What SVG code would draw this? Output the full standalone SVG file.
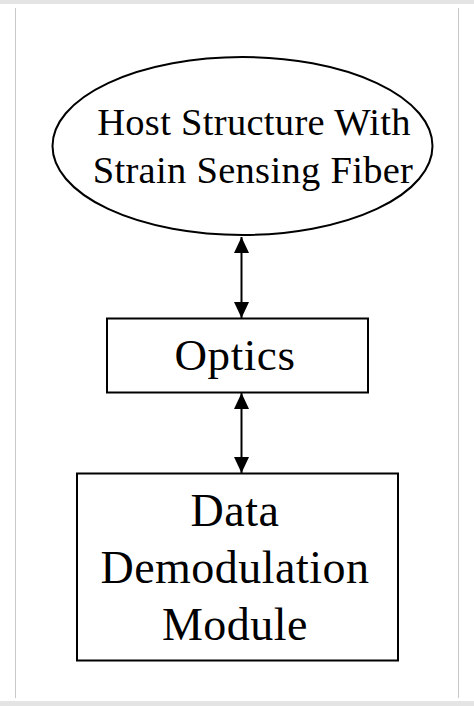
<svg xmlns="http://www.w3.org/2000/svg" width="474" height="706" viewBox="0 0 474 706">
<defs>
<style>
.shape{fill:#fff;stroke:#000;stroke-width:2}
.lbl{font-family:"Liberation Serif","Times New Roman",serif;fill:#000;text-anchor:middle}
.conn{stroke:#000;stroke-width:2;fill:none}
</style>
<marker id="ah2" viewBox="0 0 16 16" refX="16" refY="8" markerWidth="16" markerHeight="16" markerUnits="userSpaceOnUse" orient="auto-start-reverse">
<path d="M0,0.5 L16,8 L0,15.5 Z" fill="#000"/>
</marker>
</defs>
<rect x="0" y="0" width="474" height="706" fill="#fff"/>
<rect x="0" y="0" width="474" height="4" fill="#e4e4e4"/>
<rect x="0" y="701" width="474" height="5" fill="#e4e4e4"/>
<line x1="15.5" y1="8" x2="15.5" y2="698" stroke="#c8c8c8" stroke-width="1"/>
<line x1="458.5" y1="8" x2="458.5" y2="698" stroke="#c8c8c8" stroke-width="1"/>
<g id="connectors">
<line class="conn" x1="241.5" y1="237" x2="241.5" y2="318" marker-start="url(#ah2)" marker-end="url(#ah2)"/>
<line class="conn" x1="241.5" y1="393" x2="241.5" y2="473" marker-start="url(#ah2)" marker-end="url(#ah2)"/>
</g>
<g id="host">
<ellipse class="shape" cx="242.5" cy="146" rx="190" ry="89" stroke-width="1.5"/>
<text class="lbl" x="254" y="135" font-size="38.5" letter-spacing="0.3">Host Structure With</text>
<text class="lbl" x="253" y="183" font-size="38.5" letter-spacing="0.3">Strain Sensing Fiber</text>
</g>
<g id="optics">
<rect class="shape" x="107" y="318.5" width="261" height="74"/>
<text class="lbl" x="235" y="370" font-size="45" letter-spacing="0.6">Optics</text>
</g>
<g id="demod">
<rect class="shape" x="77" y="473.5" width="321" height="187"/>
<text class="lbl" x="235" y="526" font-size="46" letter-spacing="0.5">Data</text>
<text class="lbl" x="235" y="583" font-size="46" letter-spacing="0.5">Demodulation</text>
<text class="lbl" x="235" y="640" font-size="46" letter-spacing="0.5">Module</text>
</g>
</svg>
